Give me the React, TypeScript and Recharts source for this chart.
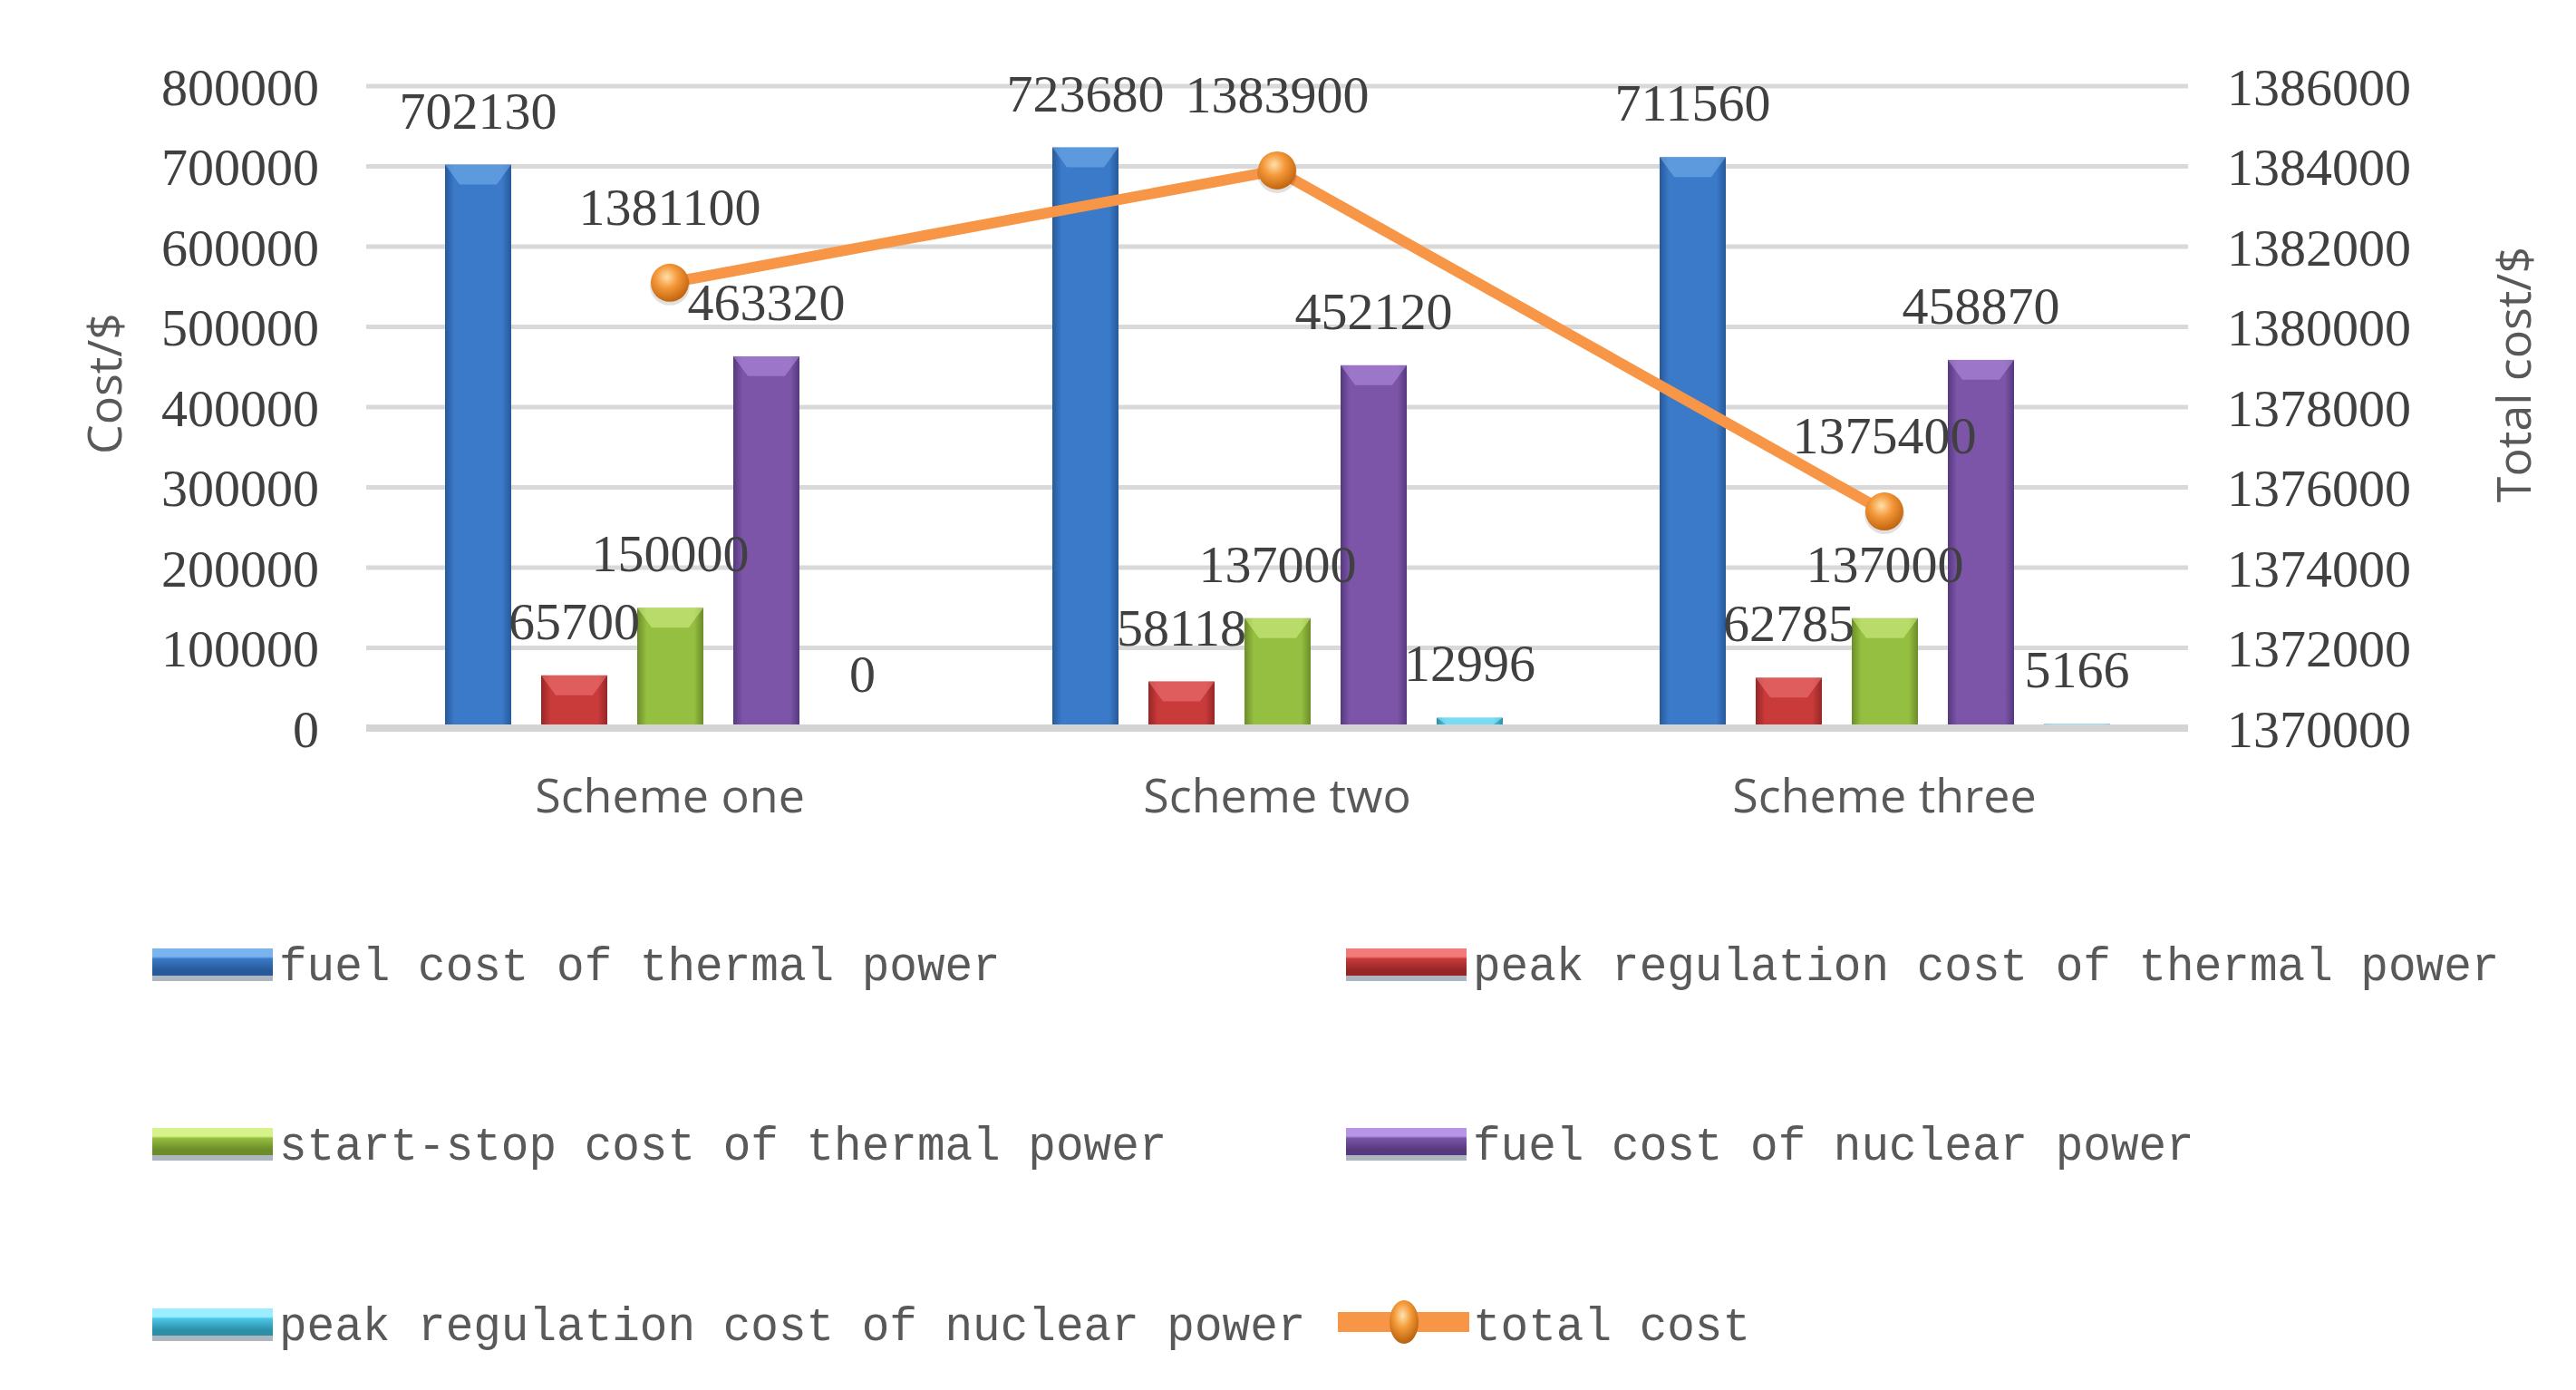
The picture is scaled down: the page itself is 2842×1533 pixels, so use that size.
import React from 'react'
import {
  ComposedChart, Bar, Line, XAxis, YAxis, CartesianGrid,
  LabelList, Legend
} from 'recharts'

// ---- data ----
const schemes = ['Scheme one', 'Scheme two', 'Scheme three']
const fuelThermal = [702130, 723680, 711560]
const peakThermal = [65700, 58118, 62785]
const startStopThermal = [150000, 137000, 137000]
const fuelNuclear = [463320, 452120, 458870]
const peakNuclear = [0, 12996, 5166]
const totalCost = [1381100, 1383900, 1375400]

const costTicks = [0, 100000, 200000, 300000, 400000, 500000, 600000, 700000, 800000]
const totalTicks = [1370000, 1372000, 1374000, 1376000, 1378000, 1380000, 1382000, 1384000, 1386000]

const seriesNames = {
  fuelThermal: 'fuel cost of thermal power',
  peakThermal: 'peak regulation cost of thermal power',
  startStopThermal: 'start-stop cost of thermal power',
  fuelNuclear: 'fuel cost of nuclear power',
  peakNuclear: 'peak regulation cost of nuclear power',
  totalCost: 'total cost',
}

const data = schemes.map((name, i) => ({
  name,
  fuelThermal: fuelThermal[i],
  peakThermal: peakThermal[i],
  startStopThermal: startStopThermal[i],
  fuelNuclear: fuelNuclear[i],
  peakNuclear: peakNuclear[i],
  totalCost: totalCost[i],
}))

// ---- styling ----
const W = 2842
const H = 1533
const SERIF = '"Liberation Serif", "Times New Roman", serif'
const SANS = '"Open Sans", "Noto Sans", sans-serif'
const MONO = '"Liberation Mono", "DejaVu Sans Mono", monospace'

const barStyles = [
  { key: 'fuelThermal', base: '#3a7ac8', dark: '#27599a', light: '#7ab4ee' },
  { key: 'peakThermal', base: '#c93a3a', dark: '#962626', light: '#f27a7a' },
  { key: 'startStopThermal', base: '#95bf40', dark: '#6b8c28', light: '#d6f28a' },
  { key: 'fuelNuclear', base: '#7c55a8', dark: '#56387e', light: '#b794e4' },
  { key: 'peakNuclear', base: '#4cc6e6', dark: '#2b8fa8', light: '#9aeeff' },
]
const ORANGE = '#f79646'
const order = ['fuelThermal', 'peakThermal', 'startStopThermal', 'fuelNuclear', 'peakNuclear', 'totalCost']

const BevelBar = (props: any) => {
  const { x, y, width, height, gid, light } = props
  if (!height || height <= 0) return null
  const bevel = Math.min(width * 0.3, height)
  return (
    <g>
      <rect x={x} y={y} width={width} height={height} fill={`url(#${gid})`} />
      <polygon
        points={`${x},${y} ${x + width},${y} ${x + width * 0.78},${y + bevel} ${x + width * 0.22},${y + bevel}`}
        fill={light}
        opacity={0.55}
      />
    </g>
  )
}

const BallDot = (props: any) => {
  const { cx, cy, index } = props
  if (cx == null || cy == null) return null
  return (
    <g key={`ball-${index}`}>
      <circle cx={cx} cy={cy + 3} r={22} fill="#000" opacity={0.12} />
      <circle cx={cx} cy={cy} r={21} fill="url(#ballGrad)" />
    </g>
  )
}

const axisTitle = (text: string, dx: number, dy: number) => (props: any) => {
  const vb = props.viewBox
  const x = vb.x + dx
  const y = vb.y + vb.height / 2 + dy
  return (
    <text
      x={x} y={y}
      transform={`rotate(-90 ${x} ${y})`}
      textAnchor="middle"
      dominantBaseline="central"
      fill="#595959"
      fontSize={52}
      fontFamily={SANS}
    >
      {text}
    </text>
  )
}

const rowCenters = [61, 259, 458]
const colSwatch = [168, 1485]
const colText = [308, 1625]

const renderLegend = (props: any) => {
  const payload: any[] = props.payload || []
  const items = order.map(k => payload.find(p => p.dataKey === k)).filter(Boolean)
  return (
    <svg width={W} height={533} style={{ display: 'block' }}>
      <defs>
        {barStyles.map(s => (
          <linearGradient key={s.key} id={`lg-${s.key}`} x1="0" y1="0" x2="0" y2="1">
            <stop offset="0%" stopColor={s.light} />
            <stop offset="30%" stopColor={s.light} />
            <stop offset="38%" stopColor={s.base} />
            <stop offset="80%" stopColor={s.dark} />
            <stop offset="100%" stopColor={s.dark} />
          </linearGradient>
        ))}
        <radialGradient id="lgBall" cx="45%" cy="35%" r="65%">
          <stop offset="0%" stopColor="#ffe2b0" />
          <stop offset="45%" stopColor="#f39a38" />
          <stop offset="100%" stopColor="#b8600c" />
        </radialGradient>
      </defs>
      {items.map((p: any, i: number) => {
        const col = i % 2
        const row = Math.floor(i / 2)
        const cy = rowCenters[row]
        const sx = colSwatch[col]
        const isLine = p.dataKey === 'totalCost'
        return (
          <g key={p.dataKey}>
            {isLine ? (
              <g>
                <line x1={sx - 9} y1={cy} x2={sx + 136} y2={cy} stroke={ORANGE} strokeWidth={22} />
                <ellipse cx={sx + 64} cy={cy} rx={16} ry={24} fill="url(#lgBall)" />
              </g>
            ) : (
              <g>
                <rect x={sx} y={cy - 15} width={133} height={30} fill={`url(#lg-${p.dataKey})`} />
                <rect x={sx} y={cy + 15} width={133} height={6} fill="#8a96a4" opacity={0.7} />
              </g>
            )}
            <text
              x={colText[col]}
              y={cy + 20}
              fill="#595959"
              fontSize={51}
              fontFamily={MONO}
            >
              {p.value}
            </text>
          </g>
        )
      })}
    </svg>
  )
}

const barLabelStyle = { fill: '#404040', fontSize: 58, fontFamily: SERIF }

export default function App() {
  return (
    <div style={{ width: W, height: H, background: '#fff' }}>
      <style>{'body{margin:0;}'}</style>
      <ComposedChart
        width={W}
        height={H}
        data={data}
        margin={{ top: 95, right: 0, bottom: 580, left: 0 }}
        barSize={73}
        barGap={33}
      >
        <defs>
          {barStyles.map(s => (
            <linearGradient key={s.key} id={`g-${s.key}`} x1="0" y1="0" x2="1" y2="0">
              <stop offset="0%" stopColor={s.dark} />
              <stop offset="14%" stopColor={s.base} />
              <stop offset="86%" stopColor={s.base} />
              <stop offset="100%" stopColor={s.dark} />
            </linearGradient>
          ))}
          <radialGradient id="ballGrad" cx="42%" cy="35%" r="65%">
            <stop offset="0%" stopColor="#ffe0aa" />
            <stop offset="45%" stopColor="#f4983a" />
            <stop offset="100%" stopColor="#c2650f" />
          </radialGradient>
        </defs>
        <CartesianGrid yAxisId="left" vertical={false} stroke="#d9d9d9" strokeWidth={5} />
        <XAxis
          dataKey="name"
          height={150}
          axisLine={{ stroke: '#d4d4d4', strokeWidth: 8 }}
          tickLine={false}
          tickSize={0}
          tickMargin={56}
          tick={{ fill: '#595959', fontSize: 52, fontFamily: SANS }}
        />
        <YAxis
          yAxisId="left"
          orientation="left"
          width={404}
          domain={[0, 800000]}
          ticks={costTicks}
          axisLine={false}
          tickLine={false}
          tickSize={0}
          tickMargin={52}
          tick={{ fill: '#404040', fontSize: 58, fontFamily: SERIF }}
          label={axisTitle('Cost/$', 113, -26)}
        />
        <YAxis
          yAxisId="right"
          orientation="right"
          width={428}
          domain={[1370000, 1386000]}
          ticks={totalTicks}
          axisLine={false}
          tickLine={false}
          tickSize={0}
          tickMargin={43}
          tick={{ fill: '#404040', fontSize: 58, fontFamily: SERIF }}
          label={axisTitle('Total cost/$', 357, -36)}
        />
        {barStyles.map(s => (
          <Bar
            key={s.key}
            yAxisId="left"
            dataKey={s.key}
            name={(seriesNames as any)[s.key]}
            fill={s.base}
            isAnimationActive={false}
            shape={(p: any) => <BevelBar {...p} gid={`g-${s.key}`} light={s.light} />}
          >
            <LabelList dataKey={s.key} position="top" offset={40} {...barLabelStyle} />
          </Bar>
        ))}
        <Line
          yAxisId="right"
          dataKey="totalCost"
          name={seriesNames.totalCost}
          type="linear"
          stroke={ORANGE}
          strokeWidth={12}
          dot={<BallDot />}
          activeDot={false}
          isAnimationActive={false}
        >
          <LabelList dataKey="totalCost" position="top" offset={64} {...barLabelStyle} />
        </Line>
        <Legend
          layout="horizontal"
          verticalAlign="middle"
          align="center"
          wrapperStyle={{ top: 1000, left: 0, width: W, height: 533 }}
          content={renderLegend}
        />
      </ComposedChart>
    </div>
  )
}
